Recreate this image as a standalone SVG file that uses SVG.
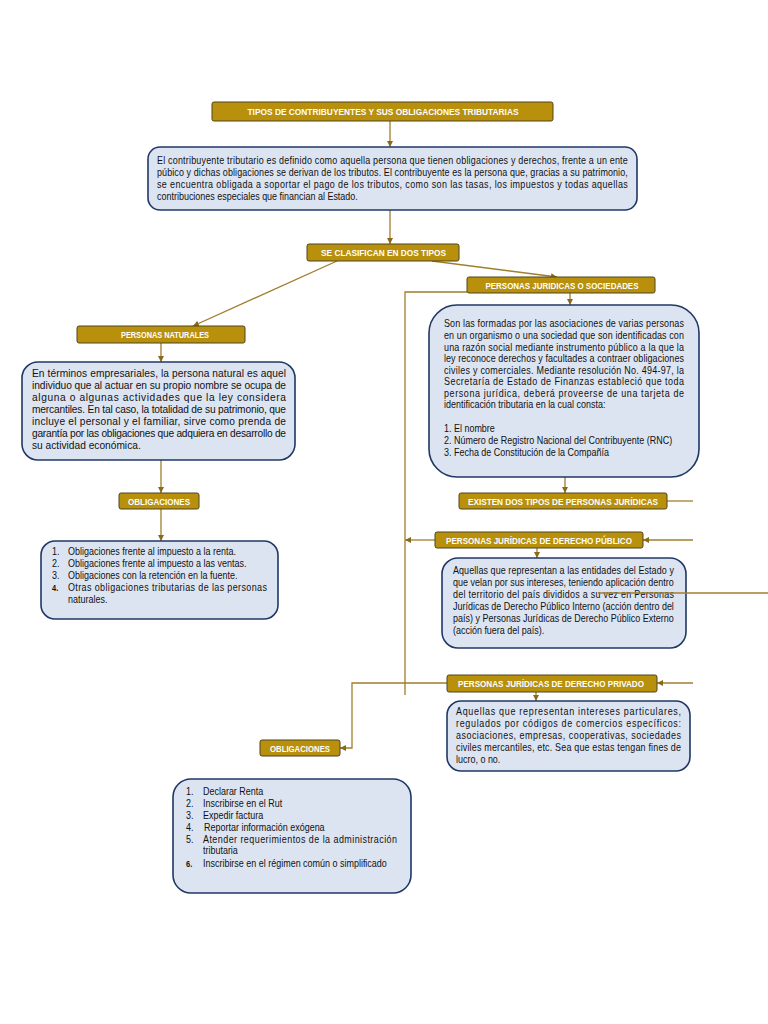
<svg xmlns="http://www.w3.org/2000/svg" width="768" height="1024" viewBox="0 0 768 1024">
<defs>
<style>
.g{fill:#B8900C;stroke:#4f4520;stroke-width:1}
.b{fill:#DCE4F2;stroke:#1F3864;stroke-width:1.6}
.gl{font-family:"Liberation Sans Narrow","Liberation Sans",Arial,sans-serif;font-size:9.5px;font-weight:bold;fill:#ffffff;text-anchor:middle}
.t{font-family:"Liberation Sans",Arial,sans-serif;font-size:10.2px;fill:#111111}
.n{font-family:"Liberation Sans",Arial,sans-serif;font-size:8.5px;font-weight:bold;fill:#111111}
.c{stroke:#A07E2C;stroke-width:1.3;fill:none}
</style>
<marker id="ah" viewBox="0 0 6 6" refX="6" refY="3" markerWidth="6" markerHeight="6" markerUnits="userSpaceOnUse" orient="auto">
<path d="M0,0 L6,3 L0,6 z" fill="#8a6a1a"/>
</marker>
</defs>
<rect width="768" height="1024" fill="#ffffff"/>

<g id="connectors">
<line class="c" x1="390" y1="121" x2="390" y2="147" marker-end="url(#ah)"/>
<line class="c" x1="390" y1="210" x2="390" y2="244" marker-end="url(#ah)"/>
<line class="c" x1="337" y1="261" x2="193" y2="326" marker-end="url(#ah)"/>
<line class="c" x1="432" y1="261" x2="557" y2="277" marker-end="url(#ah)"/>
<line class="c" x1="161" y1="343" x2="161" y2="362" marker-end="url(#ah)"/>
<line class="c" x1="161" y1="460" x2="161" y2="493" marker-end="url(#ah)"/>
<line class="c" x1="161" y1="509" x2="161" y2="541" marker-end="url(#ah)"/>
<line class="c" x1="570" y1="293" x2="570" y2="305" marker-end="url(#ah)"/>
<line class="c" x1="565" y1="477" x2="565" y2="493" marker-end="url(#ah)"/>
<line class="c" x1="667" y1="501" x2="693" y2="501"/>
<line class="c" x1="693" y1="540" x2="643" y2="540" marker-end="url(#ah)"/>
<line class="c" x1="435" y1="540" x2="405" y2="540" marker-end="url(#ah)"/>
<line class="c" x1="537" y1="548" x2="537" y2="558" marker-end="url(#ah)"/>
<polyline class="c" points="467,292 405,292 405,695"/>
<line class="c" x1="693" y1="683" x2="657" y2="683" marker-end="url(#ah)"/>
<polyline class="c" points="447,683 352,683 352,748 340,748" marker-end="url(#ah)"/>
<line class="c" x1="536" y1="692" x2="536" y2="701" marker-end="url(#ah)"/>
</g>

<g id="title">
<rect class="g" x="212" y="102" width="341" height="19" rx="2"/>
<text class="gl" x="383" y="114.5" textLength="271" lengthAdjust="spacingAndGlyphs">TIPOS DE CONTRIBUYENTES Y SUS OBLIGACIONES TRIBUTARIAS</text>
</g>

<g id="intro">
<rect class="b" x="148" y="147" width="489" height="63" rx="12"/>
<g transform="translate(157 0) scale(0.88 1)">
<text class="t" x="0" y="164" textLength="535" lengthAdjust="spacing">El contribuyente tributario es definido como aquella persona que tienen obligaciones y derechos, frente a un ente</text>
<text class="t" x="0" y="176" textLength="535" lengthAdjust="spacing">púbico y dichas obligaciones se derivan de los tributos. El contribuyente es la persona que, gracias a su patrimonio,</text>
<text class="t" x="0" y="188" textLength="535" lengthAdjust="spacing">se encuentra obligada a soportar el pago de los tributos, como son las tasas, los impuestos y todas aquellas</text>
<text class="t" x="0" y="200">contribuciones especiales que financian al Estado.</text>
</g>
</g>

<g id="clasifican">
<rect class="g" x="307" y="244" width="152" height="17" rx="2"/>
<text class="gl" x="383.5" y="256" textLength="125" lengthAdjust="spacingAndGlyphs">SE CLASIFICAN EN  DOS TIPOS</text>
</g>

<g id="naturales">
<rect class="g" x="77" y="326" width="168" height="17" rx="2"/>
<text class="gl" x="165" y="338" textLength="88" lengthAdjust="spacingAndGlyphs">PERSONAS NATURALES</text>
</g>

<g id="naturales-def">
<rect class="b" x="22" y="362" width="273" height="98" rx="16"/>
<text class="t" x="32" y="377" textLength="254" lengthAdjust="spacing">En términos empresariales, la persona natural es aquel</text>
<text class="t" x="32" y="389" textLength="254" lengthAdjust="spacing">individuo que al actuar en su propio nombre se ocupa de</text>
<text class="t" x="32" y="401" textLength="254" lengthAdjust="spacing">alguna o algunas actividades que la ley considera</text>
<text class="t" x="32" y="413" textLength="254" lengthAdjust="spacing">mercantiles. En tal caso, la totalidad de su patrimonio, que</text>
<text class="t" x="32" y="425" textLength="254" lengthAdjust="spacing">incluye el personal y el familiar, sirve como prenda de</text>
<text class="t" x="32" y="437" textLength="254" lengthAdjust="spacing">garantía por las obligaciones que adquiera en desarrollo de</text>
<text class="t" x="32" y="449">su actividad económica.</text>
</g>

<g id="obligaciones1">
<rect class="g" x="119" y="493" width="80" height="16" rx="2"/>
<text class="gl" x="159" y="504.5" textLength="62" lengthAdjust="spacingAndGlyphs">OBLIGACIONES</text>
</g>

<g id="obligaciones1-list">
<rect class="b" x="41" y="541" width="237" height="78" rx="14"/>
<g transform="translate(52 0) scale(0.88 1)">
<text class="t" x="0" y="555">1.</text>
<text class="t" x="18.2" y="555">Obligaciones frente al impuesto a la renta.</text>
<text class="t" x="0" y="567">2.</text>
<text class="t" x="18.2" y="567">Obligaciones frente al impuesto a las ventas.</text>
<text class="t" x="0" y="579">3.</text>
<text class="t" x="18.2" y="579">Obligaciones con la retención en la fuente.</text>
<text class="n" x="0" y="591">4.</text>
<text class="t" x="18.2" y="591" textLength="226" lengthAdjust="spacing">Otras obligaciones tributarias de las personas</text>
<text class="t" x="18.2" y="603">naturales.</text>
</g>
</g>

<g id="juridicas">
<rect class="g" x="467" y="277" width="188" height="16" rx="2"/>
<text class="gl" x="562" y="288.5" textLength="153" lengthAdjust="spacingAndGlyphs">PERSONAS JURIDICAS O SOCIEDADES</text>
</g>

<g id="juridicas-def">
<rect class="b" x="429" y="305" width="270" height="172" rx="28"/>
<g transform="translate(444 0) scale(0.88 1)">
<text class="t" x="0" y="327.5" textLength="272.7" lengthAdjust="spacing">Son las formadas por las asociaciones de varias personas</text>
<text class="t" x="0" y="339.5" textLength="272.7" lengthAdjust="spacing">en un organismo o una sociedad que son identificadas con</text>
<text class="t" x="0" y="351" textLength="272.7" lengthAdjust="spacing">una razón social mediante instrumento público a la que la</text>
<text class="t" x="0" y="362.5" textLength="272.7" lengthAdjust="spacing">ley reconoce derechos y facultades a contraer obligaciones</text>
<text class="t" x="0" y="374" textLength="272.7" lengthAdjust="spacing">civiles y comerciales. Mediante resolución No. 494-97, la</text>
<text class="t" x="0" y="385.5" textLength="272.7" lengthAdjust="spacing">Secretaría de Estado de Finanzas estableció que toda</text>
<text class="t" x="0" y="397" textLength="272.7" lengthAdjust="spacing">persona jurídica, deberá proveerse de una tarjeta de</text>
<text class="t" x="0" y="408.5">identificación tributaria en la cual consta:</text>
<text class="t" x="0" y="432.5">1. El nombre</text>
<text class="t" x="0" y="444.5">2. Número de Registro Nacional del Contribuyente (RNC)</text>
<text class="t" x="0" y="456">3. Fecha de Constitución de la Compañía</text>
</g>
</g>

<g id="existen">
<rect class="g" x="459" y="493" width="208" height="16" rx="2"/>
<text class="gl" x="563" y="504.5" textLength="190" lengthAdjust="spacingAndGlyphs">EXISTEN DOS TIPOS DE PERSONAS JURÍDICAS</text>
</g>

<g id="publico">
<rect class="g" x="435" y="532" width="208" height="16" rx="2"/>
<text class="gl" x="539" y="543.5" textLength="186" lengthAdjust="spacingAndGlyphs">PERSONAS JURÍDICAS DE DERECHO PÚBLICO</text>
</g>

<g id="publico-def">
<rect class="b" x="442" y="558" width="244" height="90" rx="16"/>
<g transform="translate(453 0) scale(0.88 1)">
<text class="t" x="0" y="574.5" textLength="251" lengthAdjust="spacing">Aquellas que representan a las entidades del Estado y</text>
<text class="t" x="0" y="586.5" textLength="251" lengthAdjust="spacing">que velan por sus intereses, teniendo aplicación dentro</text>
<text class="t" x="0" y="598.5" textLength="251" lengthAdjust="spacing">del territorio del país divididos a su vez en Personas</text>
<text class="t" x="0" y="610.5" textLength="251" lengthAdjust="spacing">Jurídicas de Derecho Público Interno (acción dentro del</text>
<text class="t" x="0" y="622.5" textLength="251" lengthAdjust="spacing">país) y Personas Jurídicas de Derecho Público Externo</text>
<text class="t" x="0" y="634.5">(acción fuera del país).</text>
</g>
</g>

<g id="cross-line">
<line class="c" x1="598" y1="593" x2="768" y2="593"/>
</g>

<g id="privado">
<rect class="g" x="447" y="675" width="210" height="17" rx="2"/>
<text class="gl" x="551" y="687" textLength="186" lengthAdjust="spacingAndGlyphs">PERSONAS JURÍDICAS DE DERECHO PRIVADO</text>
</g>

<g id="privado-def">
<rect class="b" x="447" y="701" width="243" height="70" rx="14"/>
<g transform="translate(456 0) scale(0.88 1)">
<text class="t" x="0" y="715.5" textLength="255.7" lengthAdjust="spacing">Aquellas que representan intereses particulares,</text>
<text class="t" x="0" y="727.5" textLength="255.7" lengthAdjust="spacing">regulados por códigos de comercios específicos:</text>
<text class="t" x="0" y="739.5" textLength="255.7" lengthAdjust="spacing">asociaciones, empresas, cooperativas, sociedades</text>
<text class="t" x="0" y="751.5" textLength="255.7" lengthAdjust="spacing">civiles mercantiles, etc. Sea que estas tengan fines de</text>
<text class="t" x="0" y="763.5">lucro, o no.</text>
</g>
</g>

<g id="obligaciones2">
<rect class="g" x="260" y="740" width="80" height="16" rx="2"/>
<text class="gl" x="300" y="751.5" textLength="60" lengthAdjust="spacingAndGlyphs">OBLIGACIONES</text>
</g>

<g id="obligaciones2-list">
<rect class="b" x="173" y="779" width="238" height="114" rx="18"/>
<g transform="translate(186 0) scale(0.88 1)">
<text class="t" x="0" y="795.5">1.</text>
<text class="t" x="19.3" y="795.5">Declarar Renta</text>
<text class="t" x="0" y="807.5">2.</text>
<text class="t" x="19.3" y="807.5">Inscribirse en el Rut</text>
<text class="t" x="0" y="819.5">3.</text>
<text class="t" x="19.3" y="819.5">Expedir factura</text>
<text class="t" x="0" y="831.5">4.</text>
<text class="t" x="20.5" y="831.5">Reportar información exógena</text>
<text class="t" x="0" y="843.5">5.</text>
<text class="t" x="19.3" y="843.5" textLength="220.5" lengthAdjust="spacing">Atender requerimientos de la administración</text>
<text class="t" x="19.3" y="854.5">tributaria</text>
<text class="n" x="0" y="867.5">6.</text>
<text class="t" x="19.3" y="867.5">Inscribirse en el régimen común o simplificado</text>
</g>
</g>
</svg>
